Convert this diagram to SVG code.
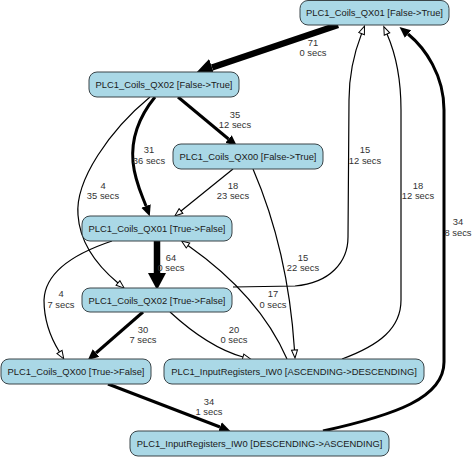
<svg xmlns="http://www.w3.org/2000/svg" width="474" height="457" viewBox="0 0 474 457">
<style>
.node rect{fill:#aad8e6;stroke:#3a4448;stroke-width:1}
.node text{font-family:"Liberation Sans",Arial,sans-serif;font-size:9.4px;fill:#1a1a1a;text-anchor:middle}
.e{fill:none;stroke:#000}
.thin{stroke-width:1.2;marker-end:url(#mOpen)}
.med{stroke-width:3;marker-end:url(#mMed)}
.big{stroke-width:6.5;marker-end:url(#mBig)}
.lbl text{font-family:"Liberation Sans",Arial,sans-serif;font-size:9.4px;fill:#333;text-anchor:middle}
</style>
<defs>
<marker id="mBig" markerUnits="userSpaceOnUse" viewBox="0 -10 20 20" refX="0" refY="0" markerWidth="20" markerHeight="20" orient="auto"><path d="M0,-9 L17,0 L0,9 z" fill="#000"/></marker>
<marker id="mMed" markerUnits="userSpaceOnUse" viewBox="0 -7 14 14" refX="0" refY="0" markerWidth="14" markerHeight="14" orient="auto"><path d="M0,-5 L11,0 L0,5 z" fill="#000"/></marker>
<marker id="mOpen" markerUnits="userSpaceOnUse" viewBox="-1 -5 11 10" refX="0" refY="0" markerWidth="11" markerHeight="10" orient="auto"><path d="M0,-3 L8,0 L0,3 z" fill="#fff" stroke="#000" stroke-width="1"/></marker>
</defs>
<g id="connectors">
<path class="e big" d="M338,25 L212,67.5"/>
<path class="e med" d="M178,97 L228.5,139"/>
<path class="e med" d="M155,97 C138,118 131,140 133,162 C135,182 142,195 146,206"/>
<path class="e thin" d="M150,97 C110,130 75,180 78,215 C80,245 100,268 118,283"/>
<path class="e thin" d="M233,169 L181,211"/>
<path class="e thin" d="M253,169 C275,220 290,280 294.5,350"/>
<path class="e big" d="M157,241 L157,273"/>
<path class="e thin" d="M112,241 C70,255 45,275 44,300 C44,322 52,340 59.5,352"/>
<path class="e med" d="M143,312 L96,353"/>
<path class="e thin" d="M170,312 C195,335 218,350 243,357"/>
<path class="e thin" d="M287,359 C270,320 240,282 188,245.5"/>
<path class="e thin" d="M233,287 L295,286 C330,283 348,262 348,237 L349,100 C349,70 356,48 361.6,33.6"/>
<path class="e thin" d="M342,359 C380,345 401,328 401,300 L401,110 C401,75 394,50 387,34"/>
<path class="e med" d="M323,431 C395,415 444,398 444,362 L444,110 C444,75 425,48 408,34"/>
<path class="e med" d="M108,384 L220,427"/>
</g>
<g class="lbl">
<text x="313" y="46">71</text><text x="313" y="56">0 secs</text>
<text x="235" y="118">35</text><text x="235" y="128">12 secs</text>
<text x="149" y="153">31</text><text x="149" y="164">36 secs</text>
<text x="103" y="189">4</text><text x="103" y="199">35 secs</text>
<text x="233" y="189">18</text><text x="233" y="199">23 secs</text>
<text x="365" y="153">15</text><text x="365" y="164">12 secs</text>
<text x="418" y="189">18</text><text x="418" y="199">12 secs</text>
<text x="458" y="225">34</text><text x="458" y="236">8 secs</text>
<text x="171" y="261">64</text><text x="171" y="271">0 secs</text>
<text x="303" y="261">15</text><text x="303" y="271">22 secs</text>
<text x="61" y="297">4</text><text x="61" y="308">7 secs</text>
<text x="273" y="297">17</text><text x="273" y="308">0 secs</text>
<text x="143" y="333">30</text><text x="143" y="343">7 secs</text>
<text x="234" y="333">20</text><text x="234" y="343">0 secs</text>
<text x="209" y="405">34</text><text x="209" y="415">1 secs</text>
</g>
<g id="n1" class="node"><rect x="300" y="0.5" width="149" height="24.5" rx="8"/><text x="374.5" y="16">PLC1_Coils_QX01 [False-&gt;True]</text></g>
<g id="n2" class="node"><rect x="89" y="72" width="150" height="25" rx="8"/><text x="164" y="88">PLC1_Coils_QX02 [False-&gt;True]</text></g>
<g id="n3" class="node"><rect x="173" y="144" width="150" height="25" rx="8"/><text x="248" y="160">PLC1_Coils_QX00 [False-&gt;True]</text></g>
<g id="n4" class="node"><rect x="82" y="216" width="150" height="25" rx="8"/><text x="157" y="232">PLC1_Coils_QX01 [True-&gt;False]</text></g>
<g id="n5" class="node"><rect x="82" y="288" width="150" height="24" rx="8"/><text x="157" y="303.5">PLC1_Coils_QX02 [True-&gt;False]</text></g>
<g id="n6" class="node"><rect x="1" y="359" width="150" height="25" rx="8"/><text x="76" y="375">PLC1_Coils_QX00 [True-&gt;False]</text></g>
<g id="n7" class="node"><rect x="164" y="359" width="260" height="25" rx="8"/><text x="294" y="375">PLC1_InputRegisters_IW0 [ASCENDING-&gt;DESCENDING]</text></g>
<g id="n8" class="node"><rect x="130" y="431" width="259" height="25" rx="8"/><text x="259.5" y="447">PLC1_InputRegisters_IW0 [DESCENDING-&gt;ASCENDING]</text></g>
</svg>
